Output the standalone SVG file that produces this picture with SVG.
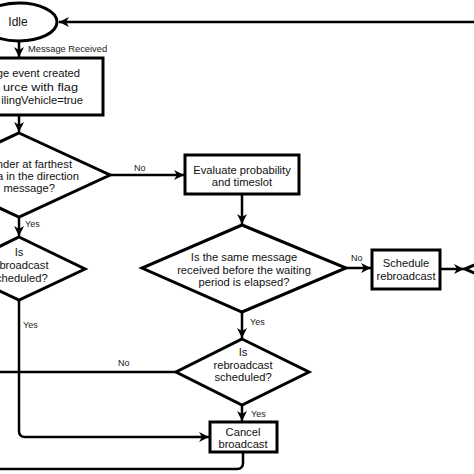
<svg xmlns="http://www.w3.org/2000/svg" width="474" height="474" viewBox="0 0 474 474">
<defs>
<marker id="arr" markerUnits="userSpaceOnUse" markerWidth="12" markerHeight="12" refX="10" refY="5" orient="auto">
<path d="M0,0 L10,5 L0,10 L3,5 Z" fill="#000"/>
</marker>
<style>
.shape{fill:#fff;stroke:#000;stroke-width:3}
.line{fill:none;stroke:#000;stroke-width:2.5}
.t{font-family:"Liberation Sans",Arial,sans-serif;font-size:11.2px;fill:#111;text-anchor:middle}
.te{font-family:"Liberation Sans",Arial,sans-serif;font-size:11.2px;fill:#111;text-anchor:end}
.ts{font-family:"Liberation Sans",Arial,sans-serif;font-size:11.2px;fill:#111;text-anchor:start}
.lbl{font-family:"Liberation Sans",Arial,sans-serif;font-size:9px;fill:#222}
</style>
</defs>
<rect width="474" height="474" fill="#fff"/>
<g id="connectors">
<path class="line" d="M474,22 L59,22" marker-end="url(#arr)"/>
<path class="line" d="M19,41 L19,57" marker-end="url(#arr)"/>
<text class="lbl" x="28" y="52" style="font-size:9.3px">Message Received</text>
<path class="line" d="M19,115 L19,132" marker-end="url(#arr)"/>
<path class="line" d="M110,175 L184,175" marker-end="url(#arr)"/>
<text class="lbl" x="134" y="171">No</text>
<path class="line" d="M19,217 L19,236" marker-end="url(#arr)"/>
<text class="lbl" x="25" y="227">Yes</text>
<path class="line" d="M242,194 L242,224" marker-end="url(#arr)"/>
<path class="line" d="M346,268 L371,268" marker-end="url(#arr)"/>
<text class="lbl" x="351" y="261">No</text>
<path class="line" d="M440,269 L464,269" marker-end="url(#arr)"/>
<path class="line" d="M242,312 L242,338" marker-end="url(#arr)"/>
<text class="lbl" x="250" y="325">Yes</text>
<path class="line" d="M242,405 L242,421" marker-end="url(#arr)"/>
<text class="lbl" x="251" y="417">Yes</text>
<path class="line" d="M176,372 L0,372"/>
<text class="lbl" x="118" y="366">No</text>
<path class="line" d="M19,300 L19,431 Q19,437 25,437 L209,437" marker-end="url(#arr)"/>
<text class="lbl" x="23" y="328">Yes</text>
<path class="line" d="M243,452 L243,463 Q243,469 237,469 L0,469"/>
</g>
<g id="idle">
<ellipse class="shape" cx="19" cy="22" rx="38" ry="19"/>
<text class="t" x="18" y="26" style="font-size:12px">Idle</text>
</g>
<g id="event-created">
<rect class="shape" x="-65" y="58" width="168" height="57"/>
<text class="te" x="80" y="77">ge event created</text>
<text class="ts" x="3" y="91" textLength="75" lengthAdjust="spacingAndGlyphs">urce with flag</text>
<text class="te" x="83" y="104">ilingVehicle=true</text>
</g>
<g id="farthest-decision">
<polygon class="shape" points="19,133 110,175 19,217 -72,175"/>
<text class="te" x="72" y="168">nder at farthest</text>
<text class="te" x="79" y="180">a in the direction</text>
<text class="te" x="55" y="192">message?</text>
</g>
<g id="evaluate">
<rect class="shape" x="185" y="155" width="114" height="39"/>
<text class="t" x="242" y="174">Evaluate probability</text>
<text class="t" x="242" y="186">and timeslot</text>
</g>
<g id="scheduled-decision-left">
<polygon class="shape" points="19,237 85,269 19,300 -47,269"/>
<text class="t" x="19" y="256">Is</text>
<text class="t" x="19" y="269">rebroadcast</text>
<text class="t" x="19" y="282">scheduled?</text>
</g>
<g id="same-message-decision">
<polygon class="shape" points="242,225 346,268 242,312 142,268"/>
<text class="t" x="244" y="261">Is the same message</text>
<text class="t" x="244" y="274">received before the waiting</text>
<text class="t" x="244" y="286">period is elapsed?</text>
</g>
<g id="schedule-rebroadcast">
<rect class="shape" x="372" y="250" width="68" height="39"/>
<text class="t" x="406" y="267">Schedule</text>
<text class="t" x="406" y="280">rebroadcast</text>
</g>
<g id="offscreen-decision">
<polygon class="shape" points="465,269 500,254 535,269 500,284"/>
</g>
<g id="scheduled-decision">
<polygon class="shape" points="242,339 309,372 242,405 176,372"/>
<text class="t" x="243" y="356">Is</text>
<text class="t" x="243" y="369">rebroadcast</text>
<text class="t" x="243" y="381">scheduled?</text>
</g>
<g id="cancel-broadcast">
<rect class="shape" x="210" y="422" width="67" height="30"/>
<text class="t" x="243" y="436">Cancel</text>
<text class="t" x="243" y="448">broadcast</text>
</g>
</svg>
